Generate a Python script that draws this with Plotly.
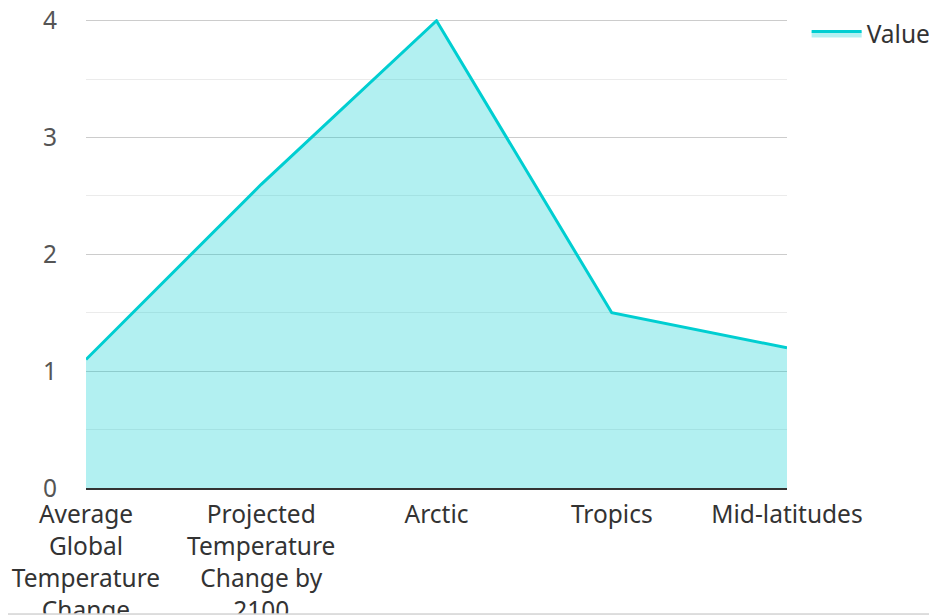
import plotly.graph_objects as go

categories = [
    "Average Global Temperature Change",
    "Projected Temperature Change by 2100",
    "Arctic",
    "Tropics",
    "Mid-latitudes",
]
tick_labels = [
    "Average<br>Global<br>Temperature<br>Change",
    "Projected<br>Temperature<br>Change by<br>2100",
    "Arctic",
    "Tropics",
    "Mid-latitudes",
]
values = [1.1, 2.6, 4.0, 1.5, 1.2]
series_name = "Value"
y_ticks = [0, 1, 2, 3, 4]

fig = go.Figure()
fig.add_trace(go.Scatter(
    x=categories, y=values, name=series_name, mode="lines",
    line=dict(color="#00CED1", width=3),
    fill="tozeroy", fillcolor="rgba(0,206,209,0.3)",
))

# page edge strip at the bottom (container clip)
fig.add_shape(type="rect", xref="paper", yref="paper",
              x0=-0.2, x1=1.3, y0=-0.32, y1=-0.2687,
              fillcolor="#f2f2f2", line=dict(width=0), layer="above")
fig.add_shape(type="line", xref="paper", yref="paper",
              x0=-0.2, x1=1.3, y0=-0.2687, y1=-0.2687,
              line=dict(color="#d4d4d4", width=1.5), layer="above")

fig.update_layout(
    width=937, height=615,
    margin=dict(l=78, r=158, t=11, b=135, autoexpand=False),
    paper_bgcolor="white", plot_bgcolor="white",
    font=dict(family="Noto Sans", size=24.5, color="#333"),
    showlegend=True,
    legend=dict(x=1.028, y=1.017, xanchor="left", yanchor="top",
                font=dict(size=24.5, color="#333"), bgcolor="rgba(0,0,0,0)",
                itemwidth=50),
    xaxis=dict(
        type="category", range=[0, 4], automargin=False,
        tickvals=categories, ticktext=tick_labels,
        showgrid=False, zeroline=False,
        showline=True, linecolor="#333", linewidth=2,
        tickfont=dict(size=24.5, color="#333"),
        ticks="", ticklabelstandoff=4, ticklabeloverflow="allow",
    ),
    yaxis=dict(
        range=[0, 4.015], tickvals=y_ticks, automargin=False,
        showgrid=True, gridcolor="#cccccc", gridwidth=1,
        minor=dict(dtick=0.5, showgrid=True, gridcolor="#ebebeb", gridwidth=1),
        zeroline=False, showline=False,
        tickfont=dict(size=24.5, color="#555"),
        ticks="", ticklabelstandoff=28, ticklabeloverflow="allow",
    ),
)

fig.write_html("out.html")
